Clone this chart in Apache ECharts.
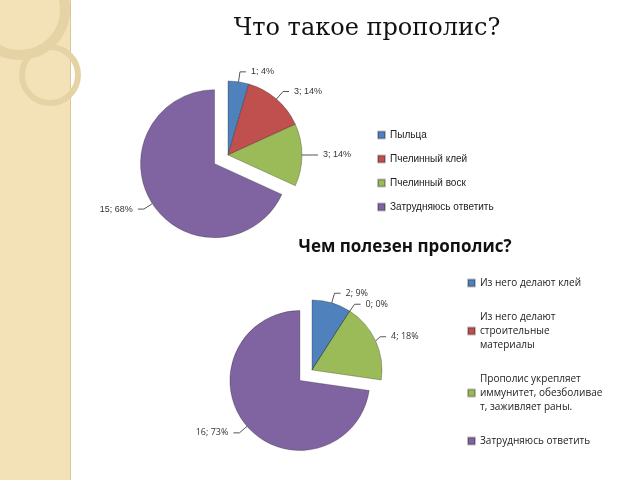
<!DOCTYPE html>
<html><head><meta charset="utf-8">
<script src="https://cdn.jsdelivr.net/npm/echarts@6/dist/echarts.min.js"></script>
<style>
html,body{margin:0;padding:0;background:#fff;}
#strip{position:absolute;left:0;top:0;width:70px;height:480px;background:#f3e2b8;border-right:1px solid #d9c79a;}
#c{position:absolute;left:0;top:0;width:640px;height:480px;}
</style></head><body>
<div id="strip"></div>
<div id="c"></div>
<script>
const names1 = ['Пыльца','Пчелинный клей','Пчелинный воск','Затрудняюсь ответить'];
const values1 = [1,3,3,15];
const pct1 = ['4%','14%','14%','68%'];
const names2 = ['Из него делают клей','Из него делают\nстроительные\nматериалы','Прополис укрепляет\nиммунитет, обезболивае\nт, заживляет раны.','Затрудняюсь ответить'];
const values2 = [2,0,4,16];
const pct2 = ['9%','0%','18%','73%'];
const colors = ['#4F81BD','#C0504D','#9BBB59','#8064A2'];

const chart = echarts.init(document.getElementById('c'));
function mk(names, vals, pct, suffix){
  return names.map((n,i)=>({name:n+suffix, value:vals[i], pctText:pct[i], selected:i===3, itemStyle:{color:colors[i]}}));
}
chart.setOption({
  animation:false,
  color:colors,
  title:[
    {text:'Что такое прополис?',left:362,top:12,textAlign:'center',textStyle:{fontFamily:'DejaVu Serif',fontWeight:'normal',fontSize:24,color:'#111'}},
    {text:'Чем полезен прополис?',left:400,top:234,textAlign:'center',textStyle:{fontFamily:'Open Sans',fontWeight:'bold',fontSize:17,color:'#111'}}
  ],
  graphic:[
    {type:'circle',shape:{cx:20,cy:10,r:45},style:{fill:'none',stroke:'#e6d3a5',lineWidth:10}},
    {type:'circle',shape:{cx:50,cy:75,r:28},style:{fill:'none',stroke:'#e6d3a5',lineWidth:6}}
  ],
  legend:[
    {orient:'vertical',left:372,top:125,itemWidth:7,itemHeight:7,itemGap:14,icon:'rect',
     data:names1.map(n=>n+' '),textStyle:{fontFamily:'Liberation Sans',fontSize:10,color:'#222'},
     formatter:n=>n.trim()},
    {orient:'vertical',left:462,top:271,itemWidth:7,itemHeight:7,itemGap:20,icon:'rect',
     data:names2,textStyle:{fontFamily:'Open Sans',fontSize:10,color:'#222',lineHeight:14}}
  ],
  series:[
    {type:'pie',center:[228,155],radius:74,startAngle:90,selectedMode:'multiple',selectedOffset:16,
     data:mk(names1,values1,pct1,' '),
     label:{formatter:p=>p.value+'; '+p.data.pctText,fontFamily:'Liberation Sans',fontSize:9,color:'#333'},
     labelLine:{length:10,length2:6,lineStyle:{color:'#555'}},
     itemStyle:{borderColor:'rgba(0,0,0,0.25)',borderWidth:1}},
    {type:'pie',center:[312,370],radius:70,startAngle:90,selectedMode:'multiple',selectedOffset:16,
     data:mk(names2,values2,pct2,''),
     label:{formatter:p=>p.value+'; '+p.data.pctText,fontFamily:'Open Sans',fontSize:9,color:'#333'},
     labelLine:{length:10,length2:6,lineStyle:{color:'#555'}},
     itemStyle:{borderColor:'rgba(0,0,0,0.25)',borderWidth:1}}
  ]
});
</script></body></html>
